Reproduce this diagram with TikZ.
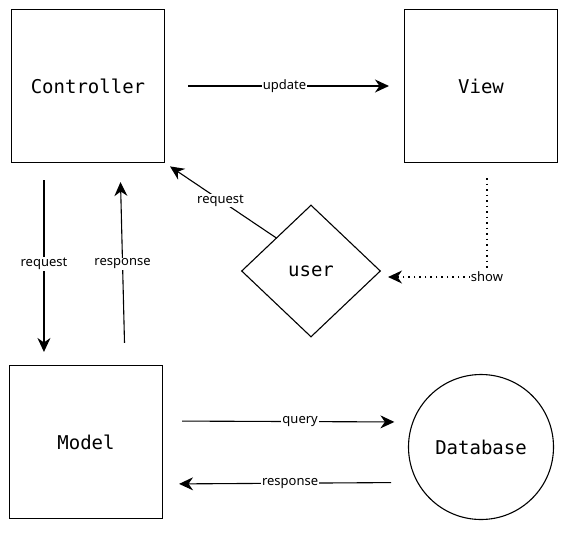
\documentclass[tikz,border=0pt]{standalone}
\usepackage{fontspec}
\setmonofont{DejaVu Sans Mono}
\newfontfamily\notefont{Noto Sans}
\usepackage{tikz}
\usetikzlibrary{shapes.geometric,arrows.meta}

\begin{document}
\begin{tikzpicture}[x=1pt, y=-1pt,
    box/.style={draw, line width=1.1pt, minimum size=153pt, inner sep=0pt,
        font=\ttfamily\fontsize{19}{19}\selectfont},
    lbl/.style={fill=white, inner sep=1pt, font=\notefont\fontsize{13}{13}\selectfont},
    link/.style={line width=1.1pt, -{Stealth[length=14pt, width=13pt]}}]
    % 枠
    \useasboundingbox (0,0) rectangle (572,533);
    % ボックス
    \node[box] (ctrl) at (88,86) {Controller};
    \node[box] (view) at (481,86) {View};
    \node[box] (model) at (86,442) {Model};
    \node[box, circle, minimum size=145pt] (db) at (481,447) {Database};
    \node[box, diamond, minimum width=139pt, minimum height=132pt] (user) at (311,271) {user};
    % 矢印
    \draw[link, shorten <=23pt, shorten >=15pt] (ctrl.east) -- (view.west) node[lbl, midway] {update};
    \draw[link, shorten >=6pt] (user.north west) -- (ctrl.south east) node[lbl, midway] {request};
    \draw[link, shorten <=17pt, shorten >=13pt] ([xshift=33pt]ctrl.south west) -- ([xshift=35pt]model.north west) node[lbl, midway] {request};
    \draw[link, shorten <=22pt, shorten >=19pt] ([xshift=-38pt]model.north east) -- ([xshift=-45pt]ctrl.south east) node[lbl, midway] {response};
    \draw[link, dash pattern=on 1.5pt off 4pt, shorten <=15pt, shorten >=7pt] ([xshift=6pt]view.south) |- ([yshift=-6pt]user.east) node[lbl, pos=0.5] {show};
    \draw[link, shorten <=19pt, shorten >=18pt] ([yshift=21pt]model.east) -- (db.160) node[lbl, pos=0.55] {query};
    \draw[link, shorten <=26pt, shorten >=16pt] (db.209) -- ([yshift=-42pt]model.east) node[lbl, midway] {response};
\end{tikzpicture}
\end{document}
